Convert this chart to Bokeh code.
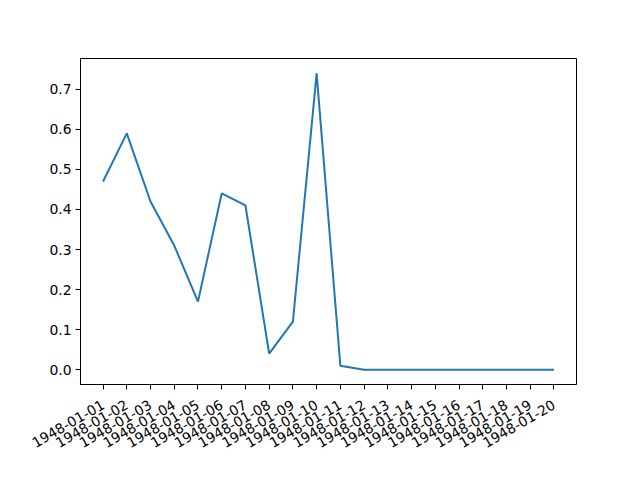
import math
from bokeh.plotting import figure
from bokeh.models import FixedTicker, Range1d, ColumnDataSource
from bokeh.embed import file_html
from bokeh.resources import INLINE

dates = ["1948-01-%02d" % d for d in range(1, 21)]
values = [0.47, 0.59, 0.42, 0.31, 0.17, 0.44, 0.41, 0.04, 0.12, 0.74,
          0.01, 0.0, 0.0, 0.0, 0.0, 0.0, 0.0, 0.0, 0.0, 0.0]
y_ticks = [0.0, 0.1, 0.2, 0.3, 0.4, 0.5, 0.6, 0.7]

x = list(range(len(dates)))
n = len(dates) - 1
ymax = max(values)
pad_x = n * 0.05
pad_y = ymax * 0.05

src = ColumnDataSource(dict(x=x, y=values, date=dates))

p = figure(width=624, height=464, output_backend="svg", toolbar_location=None,
           x_range=Range1d(-pad_x, n + pad_x), y_range=Range1d(-pad_y, ymax + pad_y),
           min_border_left=80, min_border_right=48, min_border_top=58, min_border_bottom=80)
p.line("x", "y", source=src, line_color="#1f77b4", line_width=2)

p.xgrid.visible = False
p.ygrid.visible = False
p.outline_line_color = "black"
p.outline_line_width = 1
p.background_fill_color = "white"
p.border_fill_color = "white"

p.xaxis.ticker = FixedTicker(ticks=x)
p.xaxis.major_label_overrides = {i: d for i, d in zip(x, dates)}
p.xaxis.major_label_orientation = math.pi / 6
p.yaxis.ticker = FixedTicker(ticks=y_ticks)
p.yaxis.major_label_overrides = {t: "%.1f" % t for t in y_ticks}

for ax in (p.xaxis[0], p.yaxis[0]):
    ax.axis_line_color = "black"
    ax.axis_line_width = 1
    ax.major_tick_line_color = "black"
    ax.major_tick_out = 5
    ax.major_tick_in = 0
    ax.minor_tick_line_color = None
    ax.major_label_text_font = "DejaVu Sans"
    ax.major_label_text_font_size = "13.9px"
    ax.major_label_text_color = "black"
    ax.major_label_standoff = 4
p.xaxis[0].major_label_standoff = 14

open("out.html", "w").write(file_html(p, INLINE))
